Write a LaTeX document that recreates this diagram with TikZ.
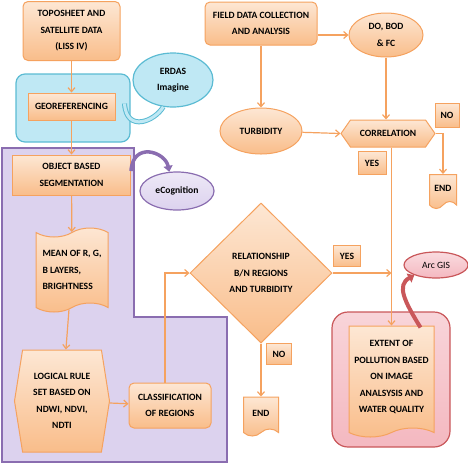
\documentclass[tikz,border=0pt]{standalone}
\usepackage{fontspec}
\setmainfont{Carlito}
\usetikzlibrary{shapes.geometric, shapes.symbols, arrows.meta}

\definecolor{orline}{HTML}{F5A25F}
\definecolor{ortop}{HTML}{FDE7D4}
\definecolor{orbot}{HTML}{F9BD8A}
\definecolor{blueline}{HTML}{5BBBD3}
\definecolor{bluefill}{HTML}{BFE8F4}
\definecolor{purpline}{HTML}{8A6DB0}
\definecolor{purpfill}{HTML}{DCD2EE}
\definecolor{pinkline}{HTML}{C9575A}
\definecolor{pinkfill}{HTML}{F4B8C0}

\begin{document}
\begin{tikzpicture}[
  x=1pt, y=-1pt,
  every node/.style={font=\bfseries\fontsize{9.6}{16.5}\selectfont, align=center, inner sep=1pt},
  box/.style={draw=orline, line width=1pt, top color=ortop, bottom color=orbot},
  rbox/.style={box, rounded corners=5pt},
  tag/.style={box, minimum width=25pt, minimum height=22pt},
  doc/.style={box, tape, tape bend top=none, tape bend height=7pt},
  arrow/.style={-{Straight Barb[length=4pt, width=7pt]}, orline, line width=1.2pt}
]
\useasboundingbox (0,0) rectangle (468,467);

% BACKGROUND GROUPS
\draw[draw=purpline, fill=purpfill, line width=1.2pt] (2,148) -- (134,148) -- (134,317) -- (227,317) -- (227,462) -- (2,462) -- cycle;
\draw[draw=blueline, fill=bluefill, line width=1.2pt, rounded corners=9pt] (16,74) rectangle (130,142);
\draw[draw=pinkline, top color=pinkfill!60, bottom color=pinkfill, line width=1.2pt, rounded corners=16pt] (332,312) rectangle (450,447);

% LEFT COLUMN
\node[rbox, minimum width=97pt, minimum height=59pt] (topo) at (71.5,31) {TOPOSHEET AND\\SATELLITE DATA\\(LISS IV)};
\node[box, minimum width=87pt, minimum height=27pt] (geo) at (71.5,106.5) {GEOREFERENCING};
\node[ellipse, draw=blueline, fill=bluefill, line width=1.2pt, minimum width=80pt, minimum height=54pt] (erdas) at (173,80) {ERDAS\\Imagine};
\node[box, minimum width=118pt, minimum height=40pt] (seg) at (71.5,175) {OBJECT BASED\\SEGMENTATION};
\node[ellipse, draw=purpline, top color=purpfill!50, bottom color=purpfill, line width=1.2pt, minimum width=74pt, minimum height=38pt] (ecog) at (177,191) {eCognition};
\node[box, tape, tape bend height=9pt, minimum width=72pt, minimum height=84pt, align=left] (mean) at (72,270) {MEAN OF R, G,\\B LAYERS,\\BRIGHTNESS};
\node[box, signal, signal to=west and east, signal pointer angle=162, minimum width=95pt, minimum height=102pt] (logic) at (62,401) {LOGICAL RULE\\SET BASED ON\\NDWI, NDVI,\\NDTI};
\node[rbox, minimum width=82pt, minimum height=45pt] (cls) at (170,405.5) {CLASSIFICATION\\OF REGIONS};

% RIGHT PART
\node[rbox, minimum width=112pt, minimum height=43pt] (field) at (261,23.5) {FIELD DATA COLLECTION\\AND ANALYSIS};
\node[box, ellipse, minimum width=74pt, minimum height=44pt] (dobod) at (386,35) {DO, BOD\\\& FC};
\node[box, ellipse, minimum width=82pt, minimum height=46pt] (turb) at (261,131) {TURBIDITY};
\node[box, signal, signal to=west and east, signal pointer angle=110, minimum width=94pt, minimum height=27pt] (corr) at (388,133.5) {CORRELATION};
\node[box, diamond, minimum width=142pt, minimum height=140pt, inner sep=0pt] (rel) at (261,273) {RELATIONSHIP\\B/N REGIONS\\AND TURBIDITY};
\node[doc, minimum width=27pt, minimum height=34pt] (endA) at (443,188) {END};
\node[doc, minimum width=35pt, minimum height=39pt] (endB) at (261,413) {END};
\node[ellipse, draw=pinkline, top color=pinkfill!50, bottom color=pinkfill, line width=1.2pt, minimum width=64pt, minimum height=26pt] (arcgis) at (436,265) {\mdseries Arc GIS};
\node[doc, tape bend height=9pt, minimum width=85pt, minimum height=111pt] (ext) at (391.5,377) {EXTENT OF\\POLLUTION BASED\\ON IMAGE\\ANALSYSIS AND\\WATER QUALITY};

% YES / NO TAGS
\node[tag, minimum width=24pt, minimum height=24pt] (noA) at (447,115) {NO};
\node[tag, minimum width=28pt, minimum height=23pt] (yesA) at (372,163) {YES};
\node[tag, minimum width=27pt, minimum height=21pt] (yesB) at (347,256) {YES};
\node[tag, minimum width=25pt, minimum height=21pt] (noB) at (279,354) {NO};

% FLOW
\draw[arrow] (topo) -- (geo);
\draw[arrow] (geo) -- (seg);
\draw[arrow] (seg) -- (mean);
\draw[arrow] (mean) -- (logic);
\draw[arrow] (logic) -- (cls);
\draw[arrow] ([xshift=-5pt]cls.north) |- (rel.west);
\draw[arrow] (field.east |- dobod.west) -- (dobod.west);
\draw[arrow] (field) -- (turb);
\draw[arrow] (turb) -- (corr.west);
\draw[arrow] (dobod) -- (corr.north -| dobod.south);
\draw[arrow] (corr.east) -| (endA.north);
\draw[arrow] (corr.south -| ext.north) -- (ext.north);
\draw[arrow] (rel.east) -- (rel.east -| ext.north);
\draw[arrow] (rel.south) -- (endB.north);

% TOOL CALLOUTS
\draw[blueline, line width=5pt] ([xshift=9pt, yshift=3pt]geo.east) .. controls +(2,30) and +(-8,14) .. (erdas.250);
\draw[bluefill, line width=3pt] ([xshift=9pt, yshift=3pt]geo.east) .. controls +(2,30) and +(-8,14) .. (erdas.250);
\draw[purpline, line width=3.5pt, -{Triangle[length=6pt, width=9pt]}] ([yshift=4pt]seg.east) .. controls +(2,-30) and +(-4,-20) .. (ecog.112);
\draw[pinkline, line width=4pt, -{Triangle[length=6pt, width=10pt]}] ([xshift=-14pt, yshift=-2pt]ext.north east) .. controls +(-16,-26) and +(-18,10) .. (arcgis.205);

\end{tikzpicture}
\end{document}
